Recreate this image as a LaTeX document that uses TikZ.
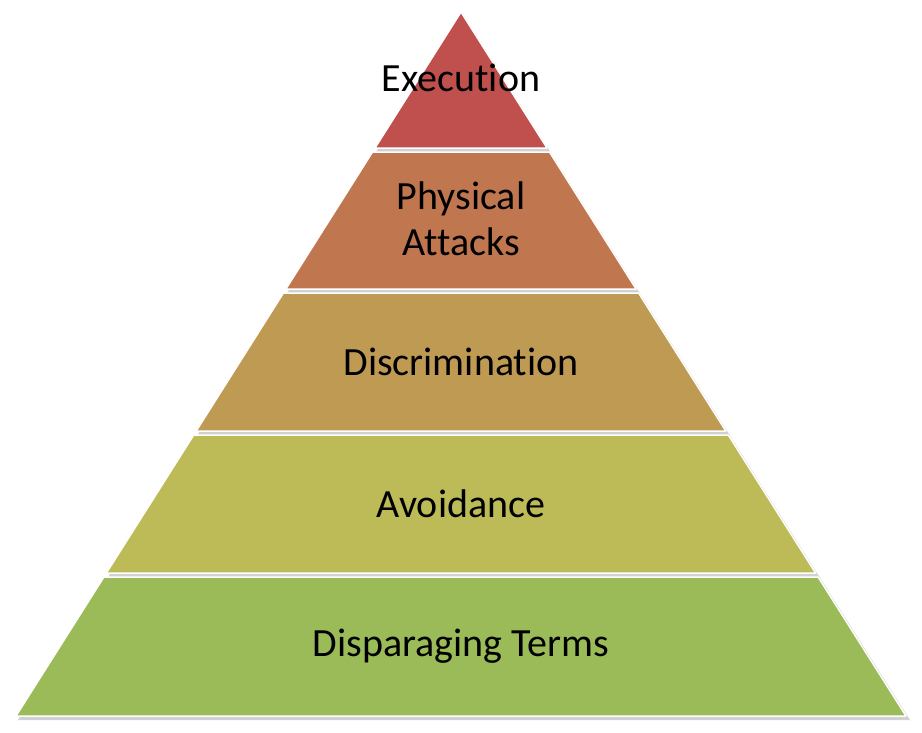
\documentclass[tikz,border=0pt]{standalone}
\usepackage{fontspec}
\setmainfont[RawFeature={-liga}]{Carlito}
\definecolor{cA}{HTML}{C0504D}
\definecolor{cB}{HTML}{C0774F}
\definecolor{cC}{HTML}{BF9A52}
\definecolor{cD}{HTML}{BDBB57}
\definecolor{cE}{HTML}{9BBB59}
\begin{document}
\begin{tikzpicture}[x=1pt,y=-1pt,
  band/.style={draw=white,line width=1.5pt,line join=round},
  lbl/.style={font=\fontsize{40}{46}\selectfont,align=center,text=black}]
\useasboundingbox (0,0) rectangle (922,732);
\fill[black!18] (463,14) -- (910,720) -- (18,720) -- cycle;
\draw[band,fill=cA] (461,12) -- (547,148) -- (375,148) -- cycle;
\draw[band,fill=cB] (372.5,152) -- (549.5,152) -- (636.1,289) -- (285.9,289) -- cycle;
\draw[band,fill=cC] (283.4,293) -- (638.6,293) -- (725.8,431) -- (196.2,431) -- cycle;
\draw[band,fill=cD] (193.7,435) -- (728.3,435) -- (815.6,573) -- (106.4,573) -- cycle;
\draw[band,fill=cE] (103.9,577) -- (818.1,577) -- (906,716) -- (16,716) -- cycle;
\node[lbl] (t1) at (461,78) {Execution};
\node[lbl] (t2) at (461,219) {Physical\\Attacks};
\node[lbl] (t3) at (461,362) {Discrimination};
\node[lbl] (t4) at (461,504) {Avoidance};
\node[lbl] (t5) at (461,646) {Disparaging Terms};
\end{tikzpicture}
\end{document}
